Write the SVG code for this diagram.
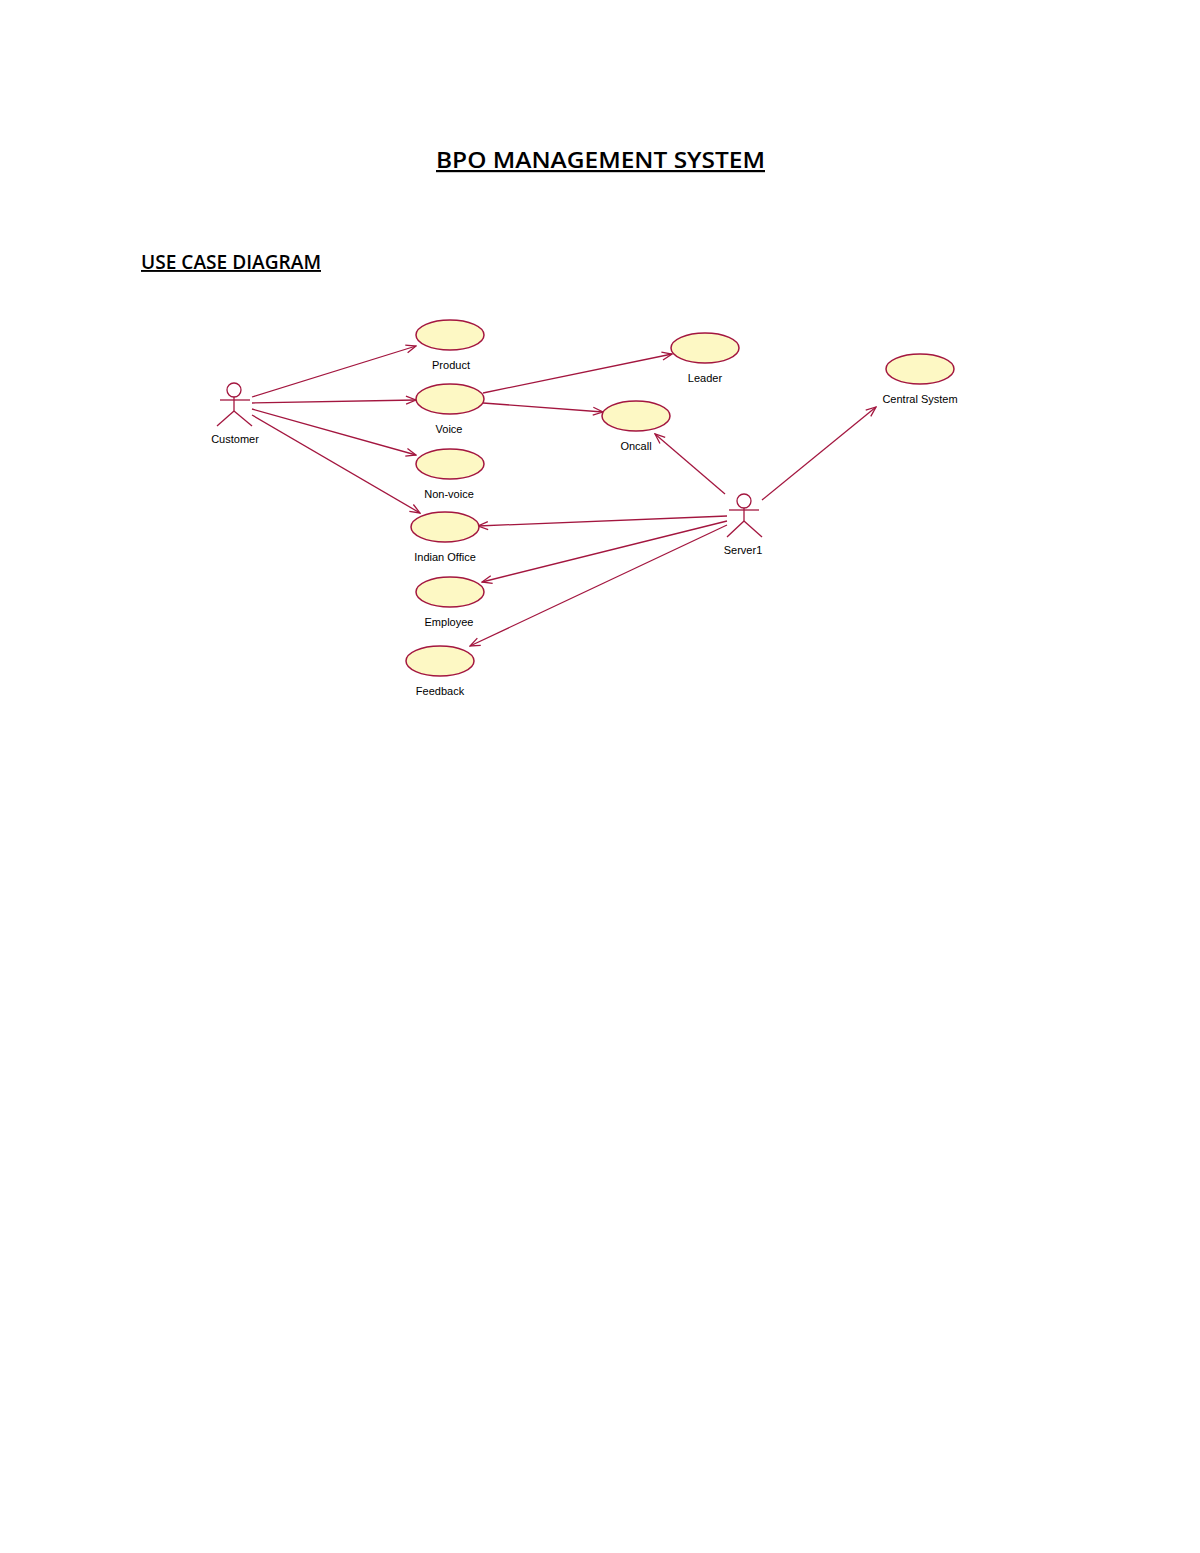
<svg xmlns="http://www.w3.org/2000/svg" width="1200" height="1553" viewBox="0 0 1200 1553">
<style>
.uc{fill:#fdf8c4;stroke:#a3163f;stroke-width:1.5}
.ln{stroke:#a3163f;stroke-width:1.3;fill:none}
.lb{font-family:"Liberation Sans",Arial,sans-serif;font-size:11px;fill:#000;text-anchor:middle}
.h{font-family:"Open Sans","Liberation Sans",sans-serif;font-weight:600;fill:#000;text-decoration:underline}
</style>
<defs><marker id="a" markerWidth="12" markerHeight="10" refX="11" refY="5" orient="auto" markerUnits="userSpaceOnUse"><path d="M1,1 L11,5 L1,9" fill="none" stroke="#a3163f" stroke-width="1.3"/></marker></defs>
<rect width="1200" height="1553" fill="#fff"/>
<text class="h" x="436" y="168" font-size="22" textLength="329" lengthAdjust="spacingAndGlyphs">BPO MANAGEMENT SYSTEM</text>
<text class="h" x="141" y="269" font-size="19" textLength="180" lengthAdjust="spacingAndGlyphs">USE CASE DIAGRAM</text>
<g id="connectors" class="ln" marker-end="url(#a)">
<line x1="252" y1="397" x2="416" y2="346"/>
<line x1="252" y1="403" x2="416" y2="400"/>
<line x1="252" y1="409" x2="416" y2="455"/>
<line x1="252" y1="415" x2="420" y2="513"/>
<line x1="483" y1="393" x2="672" y2="354"/>
<line x1="483" y1="403" x2="603" y2="412"/>
<line x1="725" y1="494" x2="655" y2="434"/>
<line x1="762" y1="500" x2="876" y2="407"/>
<line x1="727" y1="516" x2="478" y2="526"/>
<line x1="727" y1="521" x2="482" y2="582"/>
<line x1="727" y1="525" x2="470" y2="646"/>
</g>
<g id="customer" class="ln"><circle cx="234" cy="390" r="7"/><line x1="220" y1="400" x2="250" y2="400"/><line x1="234" y1="397" x2="234" y2="411"/><line x1="234" y1="411" x2="217" y2="426"/><line x1="234" y1="411" x2="252" y2="426"/></g>
<text class="lb" x="235" y="443">Customer</text>
<g id="server1" class="ln"><circle cx="744" cy="501" r="7"/><line x1="729" y1="510" x2="759" y2="510"/><line x1="744" y1="508" x2="744" y2="521"/><line x1="744" y1="521" x2="727" y2="537"/><line x1="744" y1="521" x2="762" y2="537"/></g>
<text class="lb" x="743" y="554">Server1</text>
<g id="product"><ellipse class="uc" cx="450" cy="335" rx="34" ry="15"/><text class="lb" x="451" y="369">Product</text></g>
<g id="voice"><ellipse class="uc" cx="450" cy="399" rx="34" ry="15"/><text class="lb" x="449" y="433">Voice</text></g>
<g id="nonvoice"><ellipse class="uc" cx="450" cy="464" rx="34" ry="15"/><text class="lb" x="449" y="498">Non-voice</text></g>
<g id="indianoffice"><ellipse class="uc" cx="445" cy="527" rx="34" ry="15"/><text class="lb" x="445" y="561">Indian Office</text></g>
<g id="employee"><ellipse class="uc" cx="450" cy="592" rx="34" ry="15"/><text class="lb" x="449" y="626">Employee</text></g>
<g id="feedback"><ellipse class="uc" cx="440" cy="661" rx="34" ry="15"/><text class="lb" x="440" y="695">Feedback</text></g>
<g id="leader"><ellipse class="uc" cx="705" cy="348" rx="34" ry="15"/><text class="lb" x="705" y="382">Leader</text></g>
<g id="oncall"><ellipse class="uc" cx="636" cy="416" rx="34" ry="15"/><text class="lb" x="636" y="450">Oncall</text></g>
<g id="centralsystem"><ellipse class="uc" cx="920" cy="369" rx="34" ry="15"/><text class="lb" x="920" y="403">Central System</text></g>
</svg>
